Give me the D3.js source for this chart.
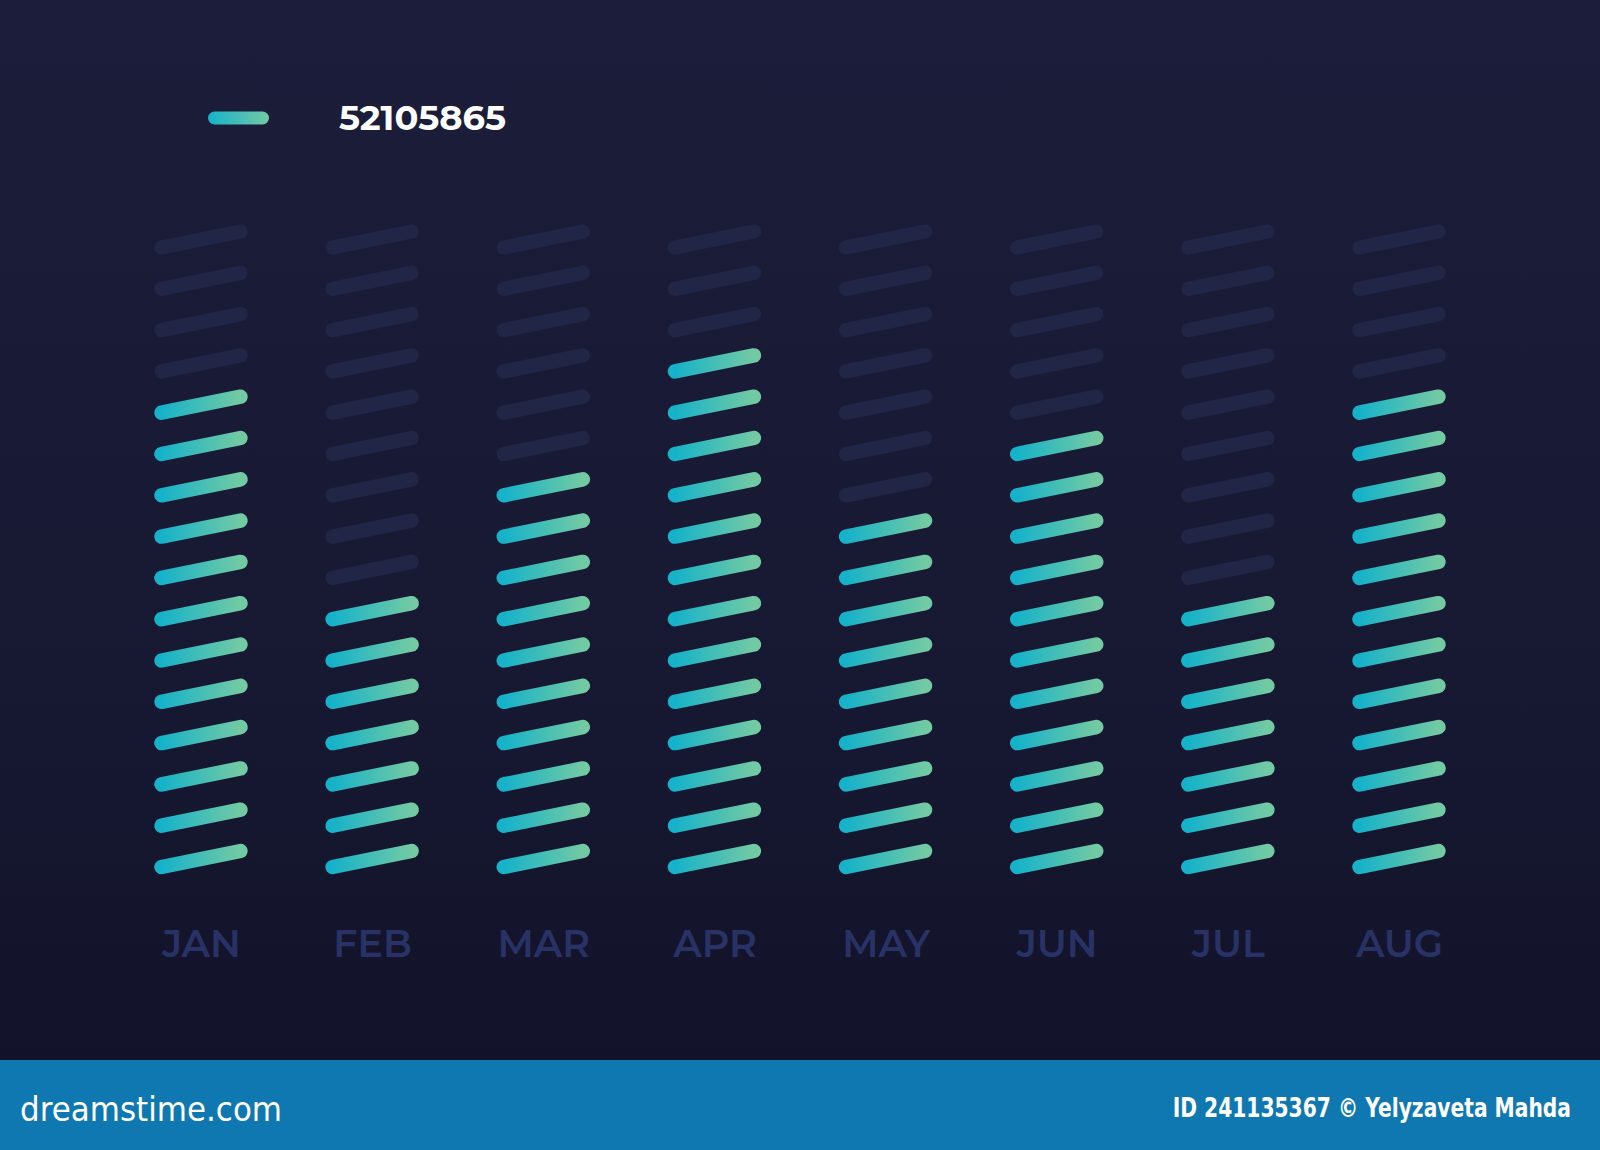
<!DOCTYPE html>
<html>
<head>
<meta charset="utf-8">
<script src="https://cdn.jsdelivr.net/npm/d3@7"></script>
<style>
  html, body { margin: 0; padding: 0; background: #1a1c37; }
  svg { display: block; }
</style>
</head>
<body>
<svg id="chart" width="1600" height="1150"></svg>
<script>
// ---- data ----
const months = ["JAN", "FEB", "MAR", "APR", "MAY", "JUN", "JUL", "AUG"];
const values = [12, 7, 10, 13, 9, 11, 7, 12];
const slots = [1, 2, 3, 4, 5, 6, 7, 8, 9, 10, 11, 12, 13, 14, 15, 16];
const legendLabel = "52105865";
const footerLeft = "dreamstime.com";
const footerRight = "ID 241135367 \u00A9 Yelyzaveta Mahda";

// ---- setup ----
const W = 1600, H = 1150;
const svg = d3.select("#chart");
const defs = svg.append("defs");

const bg = defs.append("linearGradient").attr("id", "bg")
  .attr("x1", 0).attr("y1", 0).attr("x2", 0).attr("y2", 1);
bg.append("stop").attr("offset", "0%").attr("stop-color", "#1b1d3a");
bg.append("stop").attr("offset", "55%").attr("stop-color", "#181a34");
bg.append("stop").attr("offset", "100%").attr("stop-color", "#12132a");

const lit = defs.append("linearGradient").attr("id", "lit")
  .attr("x1", 0).attr("y1", 0).attr("x2", 1).attr("y2", 0);
lit.append("stop").attr("offset", "0%").attr("stop-color", "#16b2c9");
lit.append("stop").attr("offset", "100%").attr("stop-color", "#72caa3");

svg.append("rect").attr("x", 0).attr("y", 0).attr("width", W).attr("height", 1060)
  .attr("fill", "url(#bg)");

// ---- scales ----
const x = d3.scalePoint().domain(months).range([201, 1399]);
const y = d3.scaleLinear().domain([1, 16]).range([859, 239.5]);

const halfDx = 39.5, halfDy = 8;

// ---- columns ----
const cols = svg.append("g").selectAll("g")
  .data(months.map((m, i) => ({ month: m, value: values[i] })))
  .join("g")
  .attr("transform", d => `translate(${x(d.month)},0)`);

cols.selectAll("line")
  .data(d => slots.map(s => ({ s, on: s <= d.value })))
  .join("line")
  .attr("x1", -halfDx).attr("x2", halfDx)
  .attr("y1", d => y(d.s) + halfDy)
  .attr("y2", d => y(d.s) - halfDy)
  .attr("stroke", d => d.on ? "url(#lit)" : "#212546")
  .attr("stroke-width", 14.5)
  .attr("stroke-linecap", "round");

// ---- month axis labels ----
const axis = d3.axisBottom(x).tickSize(0).tickPadding(0);
const ax = svg.append("g").attr("transform", "translate(0,930)").call(axis);
ax.select(".domain").remove();
ax.selectAll("text")
  .attr("fill", "#283265")
  .attr("dy", "0.71em")
  .style("font-family", "Montserrat, Inter, 'Noto Sans', sans-serif")
  .style("font-size", "38px")
  .style("font-weight", "600");

// ---- legend ----
const lg = svg.append("g");
lg.append("rect").attr("x", 208).attr("y", 111.5).attr("width", 61).attr("height", 13)
  .attr("rx", 6.5).attr("fill", "url(#lit)");
lg.append("text").attr("x", 339).attr("y", 130)
  .attr("fill", "#ffffff")
  .attr("textLength", 167).attr("lengthAdjust", "spacingAndGlyphs")
  .style("font-family", "Montserrat, Inter, 'Noto Sans', sans-serif")
  .style("font-size", "34px")
  .style("font-weight", "700")
  .text(legendLabel);

// ---- footer band ----
svg.append("rect").attr("x", 0).attr("y", 1060).attr("width", W).attr("height", 90)
  .attr("fill", "#0f78b0");
svg.append("text").attr("x", 20).attr("y", 1121)
  .attr("fill", "#ffffff")
  .attr("textLength", 262).attr("lengthAdjust", "spacingAndGlyphs")
  .style("font-family", "'DejaVu Sans', sans-serif")
  .style("font-size", "34px")
  .text(footerLeft);
svg.append("g").attr("transform", "translate(1571,1117) scale(0.81,1.08)")
  .append("text").attr("x", 0).attr("y", 0)
  .attr("text-anchor", "end")
  .attr("fill", "#ffffff")
  .style("font-family", "'DejaVu Sans', sans-serif")
  .style("font-size", "25px")
  .style("font-weight", "700")
  .text(footerRight);
</script>
</body>
</html>
